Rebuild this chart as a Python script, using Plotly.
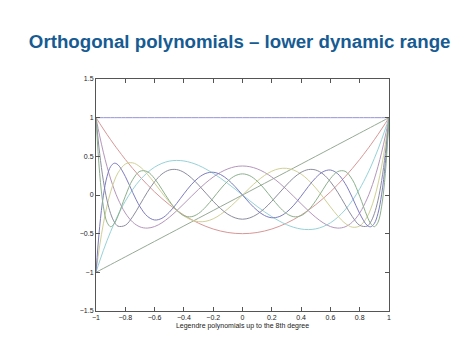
import plotly.graph_objects as go

x_vals = [-1, -0.975, -0.95, -0.925, -0.9, -0.875, -0.85, -0.8, -0.75, -0.7, -0.65, -0.6, -0.55, -0.5,
          -0.45, -0.4, -0.35, -0.3, -0.25, -0.2, -0.15, -0.1, -0.05, 0,
          0.05, 0.1, 0.15, 0.2, 0.25, 0.3, 0.35, 0.4, 0.45, 0.5, 0.55, 0.6, 0.65, 0.7, 0.75, 0.8,
          0.85, 0.875, 0.9, 0.925, 0.95, 0.975, 1]

p0 = [1] * 47
p1 = [-1, -0.975, -0.95, -0.925, -0.9, -0.875, -0.85, -0.8, -0.75, -0.7, -0.65, -0.6, -0.55, -0.5,
      -0.45, -0.4, -0.35, -0.3, -0.25, -0.2, -0.15, -0.1, -0.05, 0,
      0.05, 0.1, 0.15, 0.2, 0.25, 0.3, 0.35, 0.4, 0.45, 0.5, 0.55, 0.6, 0.65, 0.7, 0.75, 0.8,
      0.85, 0.875, 0.9, 0.925, 0.95, 0.975, 1]
p2 = [1, 0.926, 0.854, 0.783, 0.715, 0.648, 0.584, 0.46, 0.344, 0.235, 0.134, 0.04, -0.046, -0.125,
      -0.196, -0.26, -0.316, -0.365, -0.406, -0.44, -0.466, -0.485, -0.496, -0.5,
      -0.496, -0.485, -0.466, -0.44, -0.406, -0.365, -0.316, -0.26, -0.196, -0.125, -0.046, 0.04,
      0.134, 0.235, 0.344, 0.46, 0.584, 0.648, 0.715, 0.783, 0.854, 0.926, 1]
p3 = [-1, -0.855, -0.718, -0.591, -0.473, -0.362, -0.26, -0.08, 0.07, 0.193, 0.288, 0.36, 0.409, 0.438,
      0.447, 0.44, 0.418, 0.383, 0.336, 0.28, 0.217, 0.148, 0.075, 0,
      -0.075, -0.148, -0.217, -0.28, -0.336, -0.383, -0.418, -0.44, -0.447, -0.438, -0.409, -0.36,
      -0.288, -0.193, -0.07, 0.08, 0.26, 0.362, 0.473, 0.591, 0.718, 0.855, 1]
p4 = [1, 0.764, 0.554, 0.369, 0.208, 0.068, -0.051, -0.233, -0.35, -0.412, -0.428, -0.408, -0.359, -0.289,
      -0.205, -0.113, -0.019, 0.073, 0.158, 0.232, 0.293, 0.338, 0.366, 0.375,
      0.366, 0.338, 0.293, 0.232, 0.158, 0.073, -0.019, -0.113, -0.205, -0.289, -0.359, -0.408,
      -0.428, -0.412, -0.35, -0.233, -0.051, 0.068, 0.208, 0.369, 0.554, 0.764, 1]
p5 = [-1, -0.657, -0.373, -0.142, 0.041, 0.182, 0.286, 0.4, 0.416, 0.365, 0.27, 0.153, 0.028, -0.09,
      -0.192, -0.271, -0.322, -0.345, -0.34, -0.308, -0.252, -0.179, -0.093, 0,
      0.093, 0.179, 0.252, 0.308, 0.34, 0.345, 0.322, 0.271, 0.192, 0.09, -0.028, -0.153,
      -0.27, -0.365, -0.416, -0.4, -0.286, -0.182, -0.041, 0.142, 0.373, 0.657, 1]
p6 = [1, 0.537, 0.187, -0.067, -0.241, -0.349, -0.403, -0.392, -0.281, -0.125, 0.035, 0.172, 0.271, 0.323,
      0.329, 0.293, 0.223, 0.129, 0.024, -0.081, -0.175, -0.249, -0.296, -0.313,
      -0.296, -0.249, -0.175, -0.081, 0.024, 0.129, 0.223, 0.293, 0.329, 0.323, 0.271, 0.172,
      0.035, -0.125, -0.281, -0.392, -0.403, -0.349, -0.241, -0.067, 0.187, 0.537, 1]
p7 = [-1, -0.41, -0.011, 0.237, 0.368, 0.411, 0.391, 0.24, 0.034, -0.15, -0.274, -0.323, -0.301, -0.223,
      -0.111, 0.015, 0.132, 0.224, 0.28, 0.294, 0.265, 0.199, 0.107, 0,
      -0.107, -0.199, -0.265, -0.294, -0.28, -0.224, -0.132, -0.015, 0.111, 0.223, 0.301, 0.323,
      0.274, 0.15, -0.034, -0.24, -0.391, -0.411, -0.368, -0.237, 0.011, 0.41, 1]
p8 = [1, 0.28, -0.144, -0.352, -0.41, -0.369, -0.271, -0.017, 0.198, 0.307, 0.303, 0.212, 0.073, -0.074,
      -0.195, -0.267, -0.281, -0.239, -0.152, -0.04, 0.078, 0.18, 0.249, 0.273,
      0.249, 0.18, 0.078, -0.04, -0.152, -0.239, -0.281, -0.267, -0.195, -0.074, 0.073, 0.212,
      0.303, 0.307, 0.198, -0.017, -0.271, -0.369, -0.41, -0.352, -0.144, 0.28, 1]

series = [p0, p1, p2, p3, p4, p5, p6, p7, p8]
names = ["P0", "P1", "P2", "P3", "P4", "P5", "P6", "P7", "P8"]
colors = ["#9494dc", "#96aa96", "#d89696", "#96d2d8", "#b496bc", "#d0d096", "#8c8ca0", "#7c7cc0", "#8cb08c"]

x_ticks = [-1, -0.8, -0.6, -0.4, -0.2, 0, 0.2, 0.4, 0.6, 0.8, 1]
y_ticks = [-1.5, -1, -0.5, 0, 0.5, 1, 1.5]

fig = go.Figure()
for ys, nm, c in zip(series, names, colors):
    fig.add_trace(go.Scatter(x=x_vals, y=ys, mode="lines", name=nm,
                             line=dict(color=c, width=1, shape="spline", smoothing=1.0)))

axis_common = dict(showgrid=False, zeroline=False, showline=True, linecolor="#555",
                   linewidth=1, mirror="ticks", ticks="inside", ticklen=4, tickcolor="#555",
                   tickfont=dict(family="Liberation Sans, Arial", size=7, color="#222"))

W, H = 466, 347
fig.update_layout(
    width=W, height=H,
    paper_bgcolor="white", plot_bgcolor="white",
    margin=dict(l=88, r=85, t=71, b=44),
    showlegend=False,
    title=dict(text="<b>Orthogonal polynomials – lower dynamic range</b>",
               x=228.5 / W, xanchor="center", xref="paper", y=1 - 33 / H, yanchor="middle",
               font=dict(family="Liberation Sans, Arial", size=18.7, color="#165b92")),
    xaxis=dict(range=[-1, 1], tickvals=x_ticks,
               title=dict(text="Legendre polynomials up to the 8th degree", standoff=2,
                          font=dict(family="Liberation Sans, Arial", size=7, color="#222")),
               **axis_common),
    yaxis=dict(range=[-1.5, 1.5], tickvals=y_ticks, **axis_common),
)

fig.write_html("out.html")
